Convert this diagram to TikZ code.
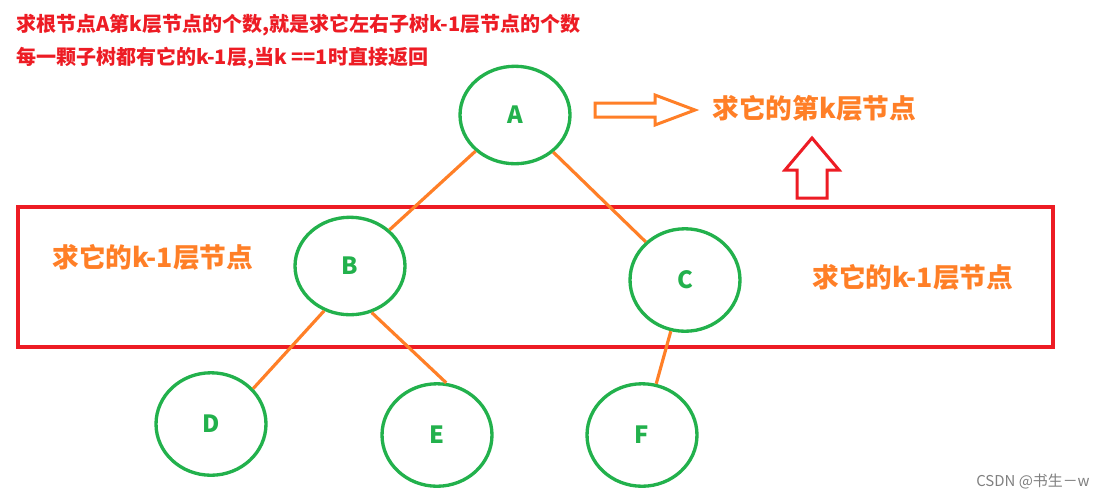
\documentclass[tikz,border=0pt]{standalone}
\usepackage{fontspec}
\setmainfont{Noto Sans CJK SC}
\usetikzlibrary{shapes.geometric}
\definecolor{gr}{RGB}{34,177,76}
\definecolor{og}{RGB}{255,127,39}
\definecolor{rd}{RGB}{237,28,36}
\begin{document}
\begin{tikzpicture}[x=0.02cm,y=-0.02cm,
  tn/.style={ellipse,draw=gr,line width=1.9pt,minimum width=2.2cm,minimum height=1.95cm,text=gr,font=\bfseries\fontsize{13.5}{14}\selectfont},
  ed/.style={draw=og,line width=1.8pt},
  lab/.style={anchor=west,inner sep=0,text=og,font=\bfseries\fontsize{15.2}{16}\selectfont},
  top/.style={anchor=west,inner sep=0,text=rd,font=\bfseries\fontsize{11.4}{12}\selectfont}]
\useasboundingbox (0,0) rectangle (1101,498);
\fill[white] (0,0) rectangle (1101,498);
\node[top] (t1) at (16,25) {求根节点A第k层节点的个数,就是求它左右子树k-1层节点的个数};
\node[top] (t2) at (16,58) {每一颗子树都有它的k-1层,当k ==1时直接返回};
\node[draw=rd,line width=1.9pt,minimum width=20.7cm,minimum height=2.8cm,inner sep=0] (R) at (535.5,277) {};
\node[tn] (A) at (515,115) {A};
\node[tn] (B) at (350,266) {B};
\node[tn,minimum height=2.05cm] (C) at (685,280) {C};
\node[tn,minimum height=2.05cm] (D) at (211,424) {D};
\node[tn,minimum height=2.05cm] (E) at (437,435) {E};
\node[tn,minimum height=2.05cm] (F) at (642,435) {F};
\draw[ed] (A) -- (B);
\draw[ed] (A) -- (C);
\draw[ed] (B.240) -- (D.40);
\draw[ed] (B.295) -- (E.80);
\draw[ed] (C) -- (F);
\draw[og,line width=1.7pt,line join=miter] (595,103) -- (655,103) -- (655,95) -- (695,110) -- (655,125) -- (655,117) -- (595,117) -- cycle;
\draw[rd,line width=1.7pt,line join=miter] (797,198) -- (797,170) -- (785,170) -- (812,138) -- (839,170) -- (827,170) -- (827,198) -- cycle;
\node[lab] (l1) at (712,108) {求它的第k层节点};
\node[lab] (l2) at (52,257) {求它的k-1层节点};
\node[lab] (l3) at (812,277) {求它的k-1层节点};
\node[anchor=east,inner sep=0,text=gray,font=\fontsize{8.5}{9}\selectfont] (w) at (1090,482) {CSDN @书生－w};
\end{tikzpicture}
\end{document}
